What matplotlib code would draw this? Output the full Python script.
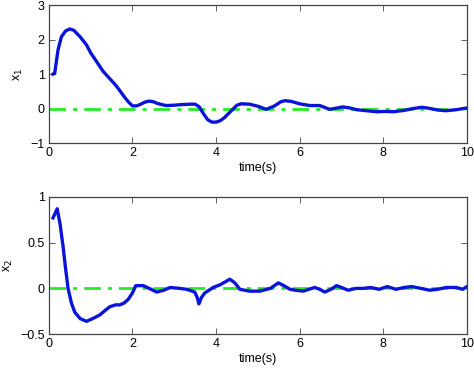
import numpy as np
import matplotlib.pyplot as plt

# x1 response
t1 = [0.1, 0.14, 0.22, 0.3, 0.4, 0.5, 0.6, 0.75, 0.9, 1.0, 1.15, 1.3, 1.45, 1.6, 1.7,
      1.8, 1.9, 2.0, 2.1, 2.2, 2.3, 2.4, 2.5, 2.6, 2.8, 3.0, 3.2, 3.4, 3.5, 3.6,
      3.7, 3.8, 3.9, 4.0, 4.1, 4.2, 4.3, 4.4, 4.5, 4.6, 4.8, 5.0, 5.2, 5.4, 5.55,
      5.65, 5.8, 6.0, 6.24, 6.48, 6.72, 6.9, 7.03, 7.2, 7.36, 7.6, 7.84, 8.05, 8.24,
      8.5, 8.7, 8.92, 9.1, 9.3, 9.5, 9.75, 10.0]
x1 = [1.0, 1.02, 1.7, 2.08, 2.25, 2.31, 2.27, 2.08, 1.85, 1.62, 1.35, 1.08, 0.88, 0.68, 0.52,
      0.35, 0.2, 0.08, 0.08, 0.13, 0.19, 0.22, 0.2, 0.15, 0.09, 0.1, 0.12, 0.13, 0.13, 0.05,
      -0.15, -0.32, -0.39, -0.39, -0.35, -0.26, -0.14, -0.02, 0.1, 0.14, 0.13, 0.07, -0.02, 0.08, 0.2,
      0.23, 0.21, 0.14, 0.09, 0.09, -0.02, 0.02, 0.05, 0.02, -0.03, -0.06, -0.09, -0.08, -0.09,
      -0.05, 0.0, 0.04, 0.01, -0.04, -0.06, -0.03, 0.02]

# x2 response
t2 = [0.1, 0.2, 0.27, 0.34, 0.4, 0.46, 0.54, 0.62, 0.75, 0.9, 1.05, 1.22, 1.35, 1.46, 1.6,
      1.7, 1.8, 1.9, 2.0, 2.08, 2.26, 2.4, 2.58, 2.75, 2.9, 3.13, 3.3, 3.49, 3.55, 3.59,
      3.65, 3.73, 3.93, 4.1, 4.33, 4.45, 4.57, 4.8, 5.05, 5.3, 5.49, 5.62, 5.77, 5.9,
      6.09, 6.22, 6.36, 6.48, 6.6, 6.75, 6.88, 7.0, 7.16, 7.35, 7.52, 7.7, 7.9, 8.1,
      8.3, 8.5, 8.68, 8.9, 9.11, 9.3, 9.5, 9.75, 9.9, 10.0]
x2 = [0.77, 0.87, 0.7, 0.46, 0.22, 0.0, -0.16, -0.26, -0.33, -0.36, -0.33, -0.29, -0.24, -0.2, -0.18,
      -0.18, -0.16, -0.12, -0.05, 0.03, 0.03, 0.0, -0.04, -0.02, 0.01, 0.0, -0.01, -0.04, -0.1, -0.17,
      -0.1, -0.05, 0.01, 0.04, 0.1, 0.06, -0.01, -0.03, -0.03, 0.0, 0.06, 0.03, -0.01, -0.02,
      -0.03, -0.01, 0.01, -0.01, -0.04, -0.01, 0.03, 0.01, -0.02, 0.0, 0.0, 0.01, -0.01, 0.02,
      -0.01, 0.01, 0.02, 0.0, -0.02, -0.01, 0.01, 0.01, -0.01, 0.02]

x1_ticks = [-1, 0, 1, 2, 3]
x2_ticks = [-0.5, 0, 0.5, 1]
t_ticks = [0, 2, 4, 6, 8, 10]

plt.rcParams['font.family'] = ['Liberation Sans', 'DejaVu Sans']
plt.rcParams['font.size'] = 9

fig = plt.figure(figsize=(4.74, 3.68), dpi=100)
ax1 = fig.add_axes([0.103, 0.611, 0.882, 0.375])
ax2 = fig.add_axes([0.103, 0.092, 0.882, 0.373])

blue = '#0a14d8'
green = '#22ee22'

for ax, t, x, yt, lab in [(ax1, t1, x1, x1_ticks, 'x$_1$'), (ax2, t2, x2, x2_ticks, 'x$_2$')]:
    ax.plot([0, 10], [0, 0], color=green, lw=2, ls=(0, (6, 2.5, 1.5, 2.5)))
    ax.plot(t, x, color=blue, lw=2.4)
    ax.set_xlim(0, 10)
    ax.set_ylim(yt[0], yt[-1])
    ax.set_xticks(t_ticks)
    ax.set_yticks(yt)
    ax.set_yticklabels([f"{v:g}".replace('-', '\u2212') for v in yt])
    ax.tick_params(direction='in', top=True, right=True, length=4, width=0.6,
                   color='#444444', pad=3)
    for s in ax.spines.values():
        s.set_linewidth(0.9)
        s.set_color('#444444')
    ax.set_xlabel('time(s)', labelpad=2)
    ax.set_ylabel(lab, labelpad=4)

fig.savefig('out.png', dpi=100)
